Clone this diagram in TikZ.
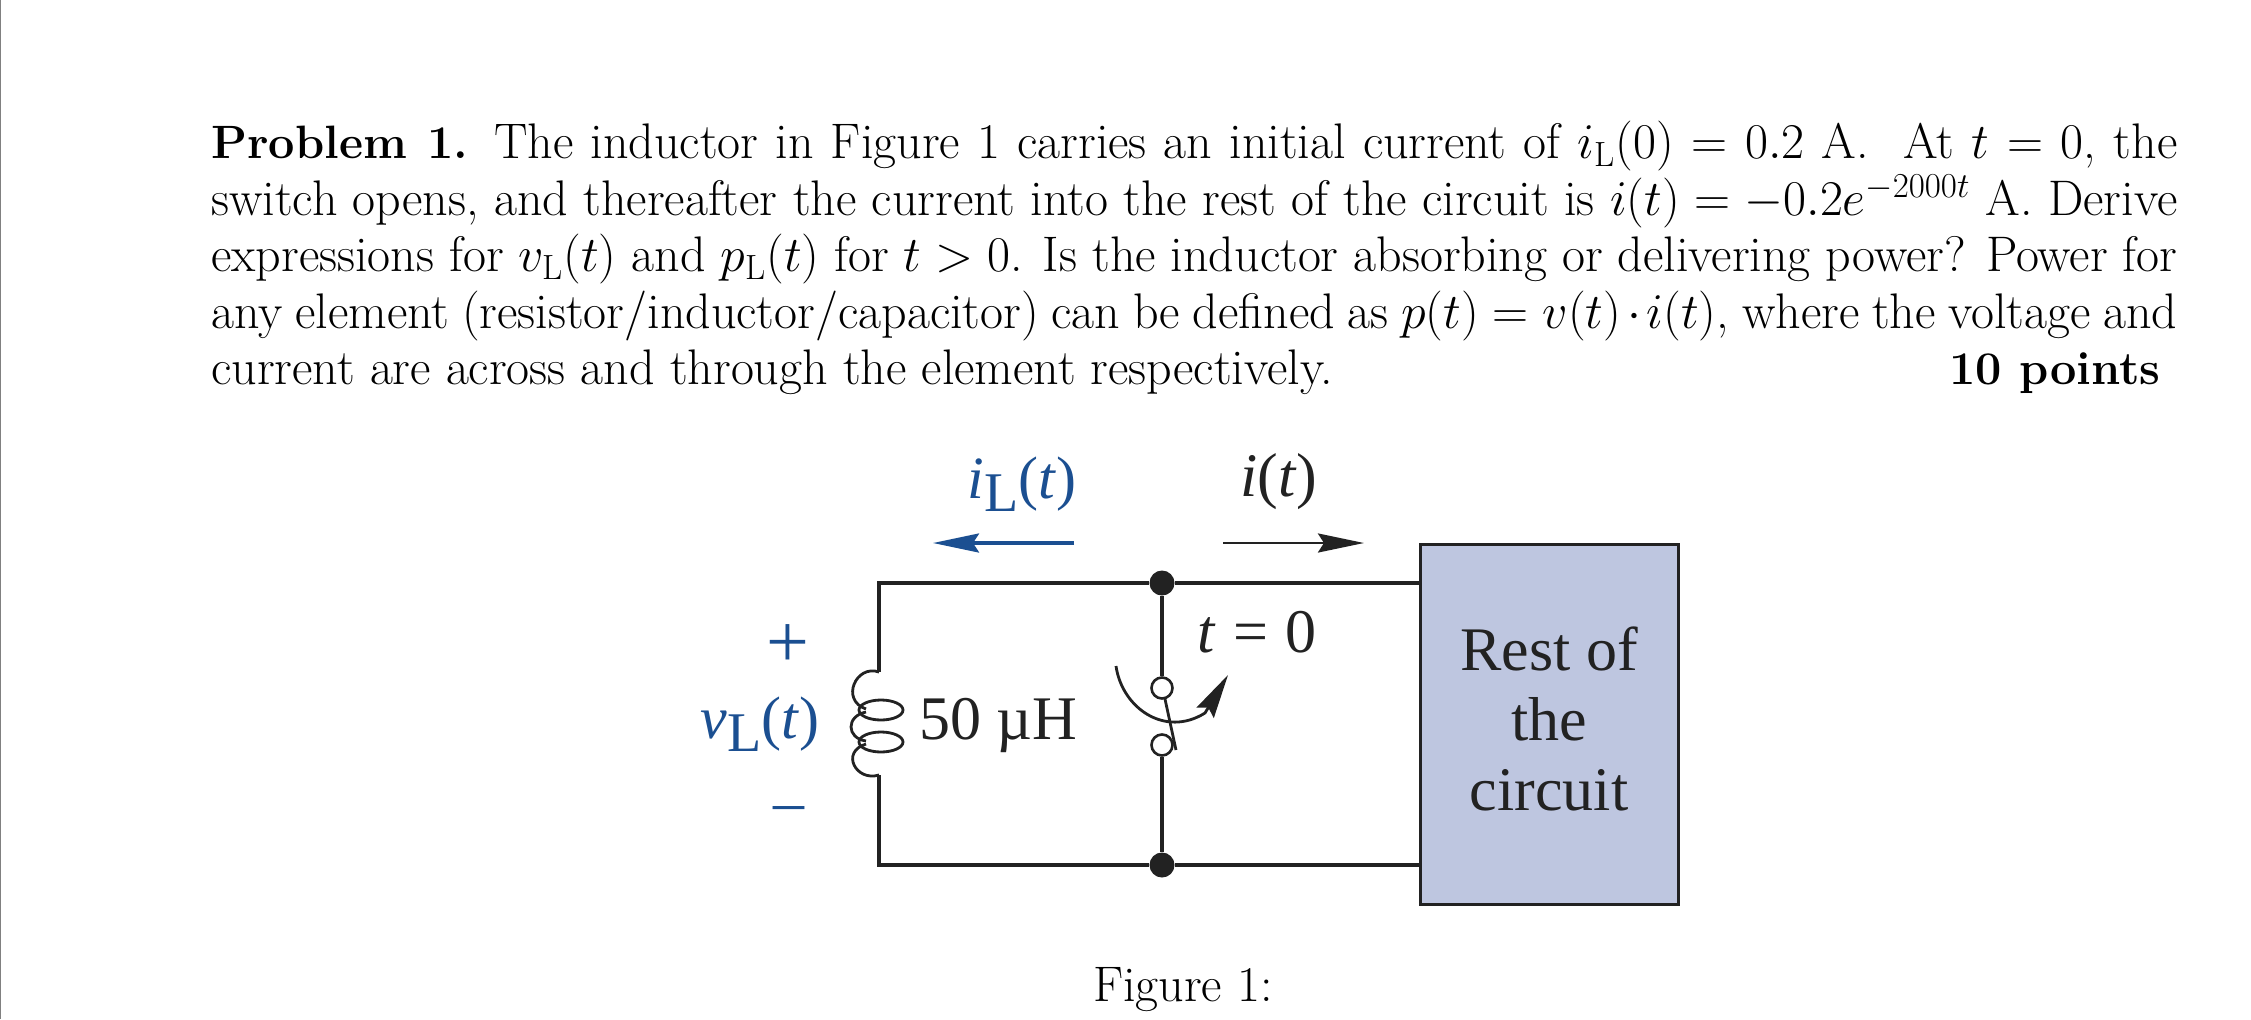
\documentclass[tikz,border=0pt]{standalone}
\usepackage{fix-cm}
\usepackage{amsmath}
\usepackage{fontspec}
\newfontfamily\figfont{Liberation Serif}
\usetikzlibrary{arrows.meta, shapes, positioning}
\DeclareMathSizes{25}{25}{17.5}{12.5}

\definecolor{inkblue}{HTML}{1B4F91}
\definecolor{boxblue}{HTML}{BEC6E0}
\definecolor{wire}{HTML}{222222}
\tikzset{
  lbl/.style={text centered, inner sep=0pt, font=\figfont\fontsize{31}{35}\selectfont, text=wire},
  bluelbl/.style={lbl, text=inkblue},
  dot/.style={circle, fill=wire, inner sep=0pt, minimum size=12.5pt},
  contact/.style={circle, draw=wire, fill=white, line width=1.3pt, inner sep=0pt, minimum size=10.5pt},
  line/.style={draw=wire, line width=1.6pt},
  coil/.style={draw=wire, line width=1.4pt},
  current/.style={line width=1.4pt, -{Stealth[length=23pt,width=9.5pt,inset=3pt]}}
}
\newcommand{\itf}[1]{\textit{#1}}
\newcommand{\subL}{\raisebox{-.22em}{\fontsize{28}{30}\selectfont L}}
\newcommand{\boldtxt}[1]{{\fontsize{23.4}{28.25}\selectfont\bfseries #1}}

\begin{document}
\begin{tikzpicture}[x=0.5pt, y=-0.5pt]
      \useasboundingbox (0,0) rectangle (2251,1019);
      \draw[gray, line width=1pt] (0,0) -- (0,1019);

      % text %
      \node[anchor=north west, inner sep=0pt, text width=983pt, align=justify,
            font=\fontsize{25}{28.25}\selectfont] (problem) at (211,121) {%
        \boldtxt{Problem 1.} The inductor in Figure 1 carries an initial current of $i_{\mathrm{L}}(0)=0.2$ A.\ \ At $t=0$, the\linebreak
        switch opens, and thereafter the current into the rest of the circuit is $i(t)=-0.2e^{-2000t}$ A. Derive\linebreak
        expressions for $v_{\mathrm{L}}(t)$ and $p_{\mathrm{L}}(t)$ for $t>0$. Is the inductor absorbing or delivering power? Power for\linebreak
        any element (resistor/inductor/capacitor) can be defined as $p(t)=v(t)\cdot i(t)$, where the voltage and\linebreak
        current are across and through the element respectively.\hfill\boldtxt{10 points}\mbox{\hspace{8.5pt}}};
      \node[inner sep=0pt, font=\fontsize{25}{28.25}\selectfont] (caption) at (1183,990) {Figure 1:};

      % nodes %
      \node[dot] (top) at (1162,583) {};
      \node[dot, below of = top, node distance=141pt] (bot) {};
      \coordinate[left of = top, node distance=141.5pt] (tl);
      \coordinate[left of = bot, node distance=141.5pt] (bl);
      \node[draw=wire, line width=1.5pt, fill=boxblue, rectangle, minimum width=129pt, minimum height=180pt] (box) at (1549,724) {};
      \node[lbl, align=center] (boxtext) at (1549,719) {Rest of\\the\\circuit};
      \node[contact] (c1) at (1162,688) {};
      \node[contact] (c2) at (1162,745) {};

      % inductor ends %
      \coordinate (l1) at (879,672);
      \coordinate (l2) at (879,775);

      % labels %
      \node[bluelbl, font=\figfont\fontsize{30}{35}\selectfont] (il) at (1022,484) {\itf{i}\subL(\itf{t})};
      \node[lbl] (it) at (1279,482) {\itf{i}(\itf{t})};
      \node[lbl] (sw) at (1257,632) {\itf{t}\hspace{.285em}=\hspace{.285em}0};
      \node[bluelbl, font=\figfont\fontsize{30}{35}\selectfont] (vl) at (760,724) {\itf{v}\subL(\itf{t})};
      \node[bluelbl, font=\figfont\fontsize{38}{40}\selectfont] (plus) at (788,646) {+};
      \node[bluelbl] (minus) at (789,814) {–};
      \node[lbl] (val) at (998,725) {50 µH};

      % current arrows %
      \coordinate (a1) at (1074,543);
      \coordinate[left of = a1, node distance=70.5pt] (a2);
      \coordinate (b1) at (1223,543);
      \coordinate[right of = b1, node distance=70.5pt] (b2);
      \draw[current, inkblue, line width=1.7pt] (a1) -- (a2);
      \draw[current, wire] (b1) -- (b2);

      % edges %
      \draw[line] (l1) -- (tl) -- (top);
      \draw[line] (l2) -- (bl) -- (bot);
      \draw[line] (top) -- (top -| box.west);
      \draw[line] (bot) -- (bot -| box.west);
      \draw[line] (top) -- (c1);
      \draw[line] (c2) -- (bot);

      % coil %
      \draw[coil] (l1) .. controls (856,664) and (840,700) .. (866,709);
      \draw[coil] (866,712) .. controls (846,716) and (846,738) .. (866,741);
      \draw[coil] (866,744) .. controls (840,752) and (856,782) .. (l2);
      \draw[coil] (881,710) ellipse (22 and 10);
      \draw[coil] (881,742) ellipse (22 and 10);

      % switch %
      \coordinate (s1) at (1165,699);
      \coordinate (s2) at (1176,750);
      \coordinate (r1) at (1116,666);
      \coordinate (r2) at (1205,713);
      \coordinate (r3) at (1228,675);
      \draw[coil] (s1) -- (s2);
      \draw[coil, -{Stealth[length=22pt,width=10pt,inset=3pt]}] (r1) .. controls (1122,708) and (1165,738) .. (r2) -- (r3);
\end{tikzpicture}
\end{document}
